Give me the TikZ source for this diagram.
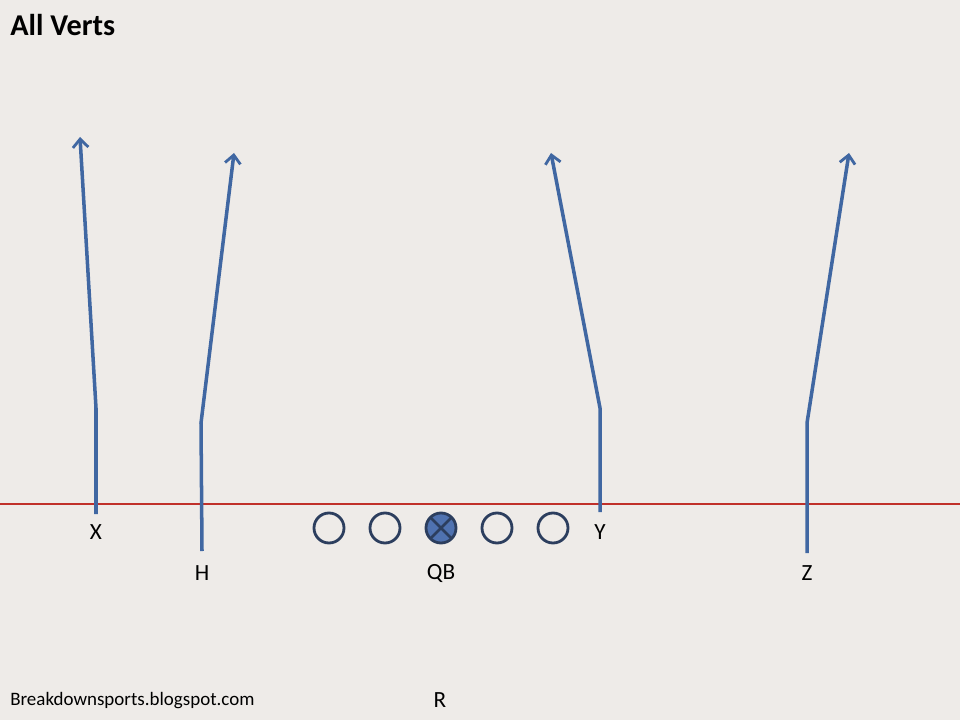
\documentclass[tikz,border=0pt]{standalone}
\usepackage{fontspec}
\setmainfont{Carlito}
\usetikzlibrary{arrows.meta,positioning}
\definecolor{field}{HTML}{EEEBE8}
\definecolor{route}{HTML}{4067A2}
\definecolor{lineman}{HTML}{2C3E5E}
\definecolor{qbfill}{HTML}{4F72B0}
\definecolor{scrim}{HTML}{C0302A}
\tikzstyle{player} = [circle, minimum size=0.75cm, inner sep=0pt, draw=lineman, line width=2pt]
\tikzstyle{qb} = [player, fill=qbfill, path picture={\draw[lineman, line width=1.8pt] (path picture bounding box.south west) -- (path picture bounding box.north east) (path picture bounding box.north west) -- (path picture bounding box.south east);}]
\tikzstyle{poslabel} = [font=\fontsize{16.5}{18}\selectfont, inner sep=0pt]
\tikzstyle{arrow} = [draw=route, line width=2.5pt, line join=round, -{Straight Barb[length=6pt,width=11pt,line width=2pt]}]

\begin{document}
\begin{tikzpicture}
    \fill[field] (0,0) rectangle (24,18);
    \useasboundingbox (0,0) rectangle (24,18);

    \node (title) [anchor=west, inner sep=0pt, font=\fontsize{21.5}{24}\selectfont\bfseries] at (0.25,17.375) {All Verts};
    \node (blog) [anchor=west, inner sep=0pt, font=\fontsize{13.5}{16}\selectfont] at (0.25,0.475) {Breakdownsports.blogspot.com};

    % line of scrimmage
    \coordinate (losl) at (0,5.4);
    \coordinate (losr) at (24,5.4);
    \draw [scrim, line width=0.9pt] (losl) -- (losr);

    % offensive line
    \node (lt) [player] at (8.225,4.8) {};
    \node (lg) [player] at (9.625,4.8) {};
    \node (c)  [qb]     at (11.025,4.8) {};
    \node (rg) [player] at (12.425,4.8) {};
    \node (rt) [player] at (13.825,4.8) {};

    % labels
    \node (x) [poslabel] at (2.4,4.7) {X};
    \node (h) [poslabel] at (5.05,3.675) {H};
    \node (qb) [poslabel] at (11.025,3.675) {QB};
    \node (y) [poslabel] at (15.0,4.7) {Y};
    \node (z) [poslabel] at (20.175,3.675) {Z};
    \node (r) [poslabel] at (11.0,0.5) {R};

    % routes
    \coordinate (xs) at (2.4,5.15);
    \coordinate (xb) at (2.4,7.8);
    \coordinate (xe) at (2.0,14.575);
    \coordinate (hs) at (5.05,4.225);
    \coordinate (hb) at (5.025,7.425);
    \coordinate (he) at (5.85,14.175);
    \coordinate (ys) at (15.0,5.2);
    \coordinate (yb) at (15.0,7.8);
    \coordinate (ye) at (13.775,14.175);
    \coordinate (zs) at (20.175,4.175);
    \coordinate (zb) at (20.175,7.425);
    \coordinate (ze) at (21.225,14.175);

    \draw [arrow] (xs) -- (xb) -- (xe);
    \draw [arrow] (hs) -- (hb) -- (he);
    \draw [arrow] (ys) -- (yb) -- (ye);
    \draw [arrow] (zs) -- (zb) -- (ze);

\end{tikzpicture}
\end{document}
